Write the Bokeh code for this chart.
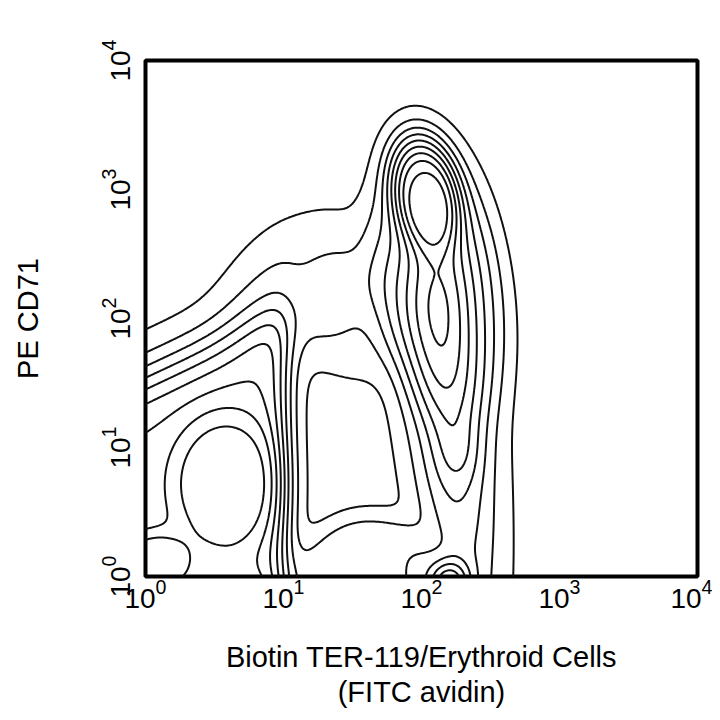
import numpy as np
from bokeh.plotting import figure
from bokeh.embed import file_html
from bokeh.resources import INLINE
from bokeh.models import FixedTicker

# ---- axis data ----
tick_values = [1, 10, 100, 1000, 10000]
x_label = "Biotin TER-119/Erythroid Cells\n(FITC avidin)"
y_label = "PE CD71"

# ---- cell populations (log10 units) ----
# 0 erythroid core, 1-5 erythroid ridge (top to bottom), 6 erythroid halo,
# 7 low erythroid spot, 8 low-left population, 9 corner, 10 below-axis pile-up,
# 11 bottom-middle, 12 bottom-right, 13 upper bridge, 14 middle bridge
pop_cx = [2.02, 2.1, 2.17, 2.24, 2.3, 2.35, 2.12, 2.27, 0.58, 0.08, 0.65, 1.6, 2.2, 1.15, 1.5]
pop_cy = [3.0, 2.3, 1.6, 0.9, 0.2, -0.5, 2.3, 0.95, 0.72, 0.12, -0.35, -0.05, -0.05, 2.3, 2.0]
pop_sx = [0.2, 0.21, 0.21, 0.21, 0.21, 0.21, 0.45, 0.12, 0.3, 0.15, 0.25, 0.45, 0.1, 0.45, 0.3]
pop_sy = [0.35, 0.5, 0.5, 0.5, 0.5, 0.5, 1.0, 0.18, 0.42, 0.13, 0.25, 0.5, 0.12, 0.45, 0.4]
pop_rho = [-0.2, 0.0, 0.0, 0.0, 0.0, 0.0, -0.3, 0.0, 0.0, 0.0, 0.0, 0.0, 0.0, 0.3, 0.0]
pop_amp = [0.55, 0.4, 0.25, 0.21, 0.14, 0.08, 0.18, 0.08, 0.3, 0.4, 0.3, 0.2, 0.4, 0.12, 0.1]
pop_pow = [1.5, 1.0, 1.0, 1.0, 1.0, 1.0, 2.5, 1.0, 1.5, 1.0, 1.0, 3.0, 1.0, 1.5, 1.5]

# left lobe (low TER-119 cells): plateau with a right edge and a top edge
lobe_edge_x = 1.02
lobe_width_x = 0.06
lobe_edge_y = 1.55
lobe_width_y = 0.15
lobe_slope = 0.5
lobe_amp = 0.62

levels = [0.05, 0.14, 0.23, 0.32, 0.41, 0.5, 0.59, 0.68, 0.78]

gx = np.linspace(-0.5, 4.5, 501)
gy = np.linspace(-0.5, 4.5, 501)
LX, LY = np.meshgrid(gx, gy)
Z = np.zeros_like(LX)
for cx, cy, sx, sy, r, a, pw in zip(pop_cx, pop_cy, pop_sx, pop_sy, pop_rho, pop_amp, pop_pow):
    u = (LX - cx) / sx
    v = (LY - cy) / sy
    q = (u * u - 2 * r * u * v + v * v) / (1 - r * r)
    Z += a * np.exp(-0.5 * q ** pw)
Z += (lobe_amp
      / (1 + np.exp((LX - lobe_edge_x) / lobe_width_x))
      / (1 + np.exp((LY - lobe_edge_y - lobe_slope * LX) / lobe_width_y)))

p = figure(width=712, height=712,
           x_axis_type="log", y_axis_type="log",
           x_range=(1, 1e4), y_range=(1, 1e4),
           output_backend="svg", toolbar_location=None,
           min_border_left=145, min_border_top=60, min_border_right=15, min_border_bottom=136,
           background_fill_color="white", border_fill_color="white")

p.contour(10 ** LX, 10 ** LY, Z, levels, line_color="#111111", line_width=2)

p.grid.visible = False
p.outline_line_color = "black"
p.outline_line_width = 4

for ax in (p.xaxis[0], p.yaxis[0]):
    ax.ticker = FixedTicker(ticks=tick_values)
    ax.axis_line_color = None
    ax.major_tick_line_color = None
    ax.minor_tick_line_color = None
    ax.major_label_text_font = "Liberation Sans"
    ax.major_label_text_font_size = "28px"
    ax.major_label_text_color = "black"
    ax.axis_label_text_font = "Liberation Sans"
    ax.axis_label_text_font_size = "29px"
    ax.axis_label_text_font_style = "normal"
    ax.axis_label_text_color = "black"
    ax.axis_label_text_line_height = 1.1

p.xaxis[0].major_label_standoff = -4
p.yaxis[0].major_label_standoff = 10
p.xaxis[0].axis_label = x_label
p.yaxis[0].axis_label = y_label
p.yaxis[0].major_label_orientation = "vertical"
p.xaxis[0].axis_label_standoff = 30
p.yaxis[0].axis_label_standoff = 54

open("out.html", "w").write(file_html(p, INLINE))
